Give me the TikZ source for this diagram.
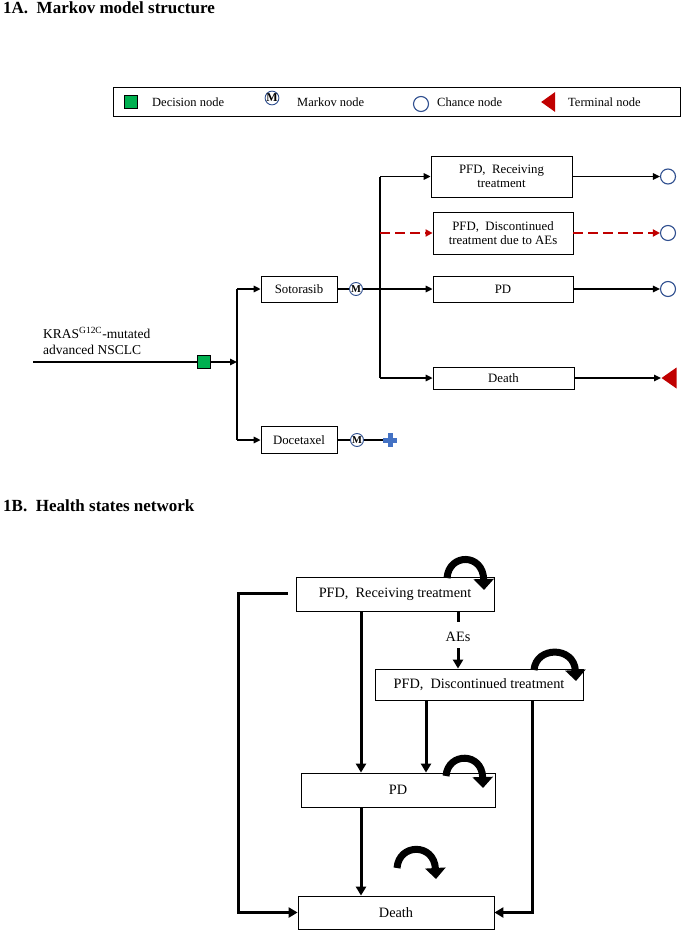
\documentclass[tikz,border=0pt]{standalone}
\usepackage{fontspec}
\setmainfont{Liberation Serif}
\usetikzlibrary{arrows.meta,shapes.geometric}
\definecolor{dred}{HTML}{C00000}
\definecolor{dblue}{HTML}{2F4F8F}
\definecolor{dgreen}{HTML}{00B050}
\definecolor{pblue}{HTML}{4472C4}
\begin{document}
\begin{tikzpicture}[x=1pt,y=-1pt,
  tbox/.style={draw, line width=0.8pt, inner sep=0pt, align=center, font=\fontsize{12.8}{14.5}\selectfont},
  nbox/.style={draw, line width=0.8pt, inner sep=0pt, align=center, font=\fontsize{14.3}{16}\selectfont},
  tline/.style={line width=1.5pt, -{Triangle[length=7pt,width=6.5pt]}},
  tplain/.style={line width=1.5pt},
  rdash/.style={line width=2.3pt, dred, dash pattern=on 10pt off 5pt, -{Triangle[length=7pt,width=7pt]}},
  mnode/.style={circle, draw=dblue, line width=0.9pt, fill=white, minimum size=13pt, inner sep=0pt, font=\bfseries\fontsize{10.5}{10.5}\selectfont},
  cnode/.style={circle, draw=dblue, line width=1.1pt, fill=white, minimum size=15pt, inner sep=0pt},
  tnode/.style={isosceles triangle, shape border rotate=180, isosceles triangle stretches=true, fill=dred, minimum height=15pt, minimum width=21pt, inner sep=0pt},
  dnode/.style={draw=black, line width=0.8pt, fill=dgreen, minimum size=13pt, inner sep=0pt},
  nline/.style={line width=3pt, -{Triangle[length=9pt,width=10pt]}},
  nplain/.style={line width=3pt},
  loopar/.style={line width=7pt, -{Triangle[length=11pt,width=20pt]}},
  ttl/.style={font=\bfseries\fontsize{17}{19}\selectfont, anchor=base west, inner sep=0pt},
  lgd/.style={font=\fontsize{12.5}{14}\selectfont, anchor=west, inner sep=0pt},
]
\fill[white] (0,0) rectangle (685,931);
\useasboundingbox (0,0) rectangle (685,931);

% ---------- 1A ----------
\node[ttl] (tA) at (3,14) {1A.\ \ Markov model structure};

\node[draw, line width=0.8pt, minimum width=567pt, minimum height=29pt, inner sep=0pt] (lg) at (396.5,102) {};
\node[dnode] (ld) at (131,102) {};
\node[lgd] (ldt) at (152,102) {Decision node};
\node[mnode, minimum size=13pt, font=\bfseries\fontsize{12}{12}\selectfont] (lm) at (272,98) {M};
\node[lgd] (lmt) at (297,102) {Markov node};
\node[cnode] (lc) at (421,104) {};
\node[lgd] (lct) at (437,102) {Chance node};
\node[tnode, minimum height=14pt, minimum width=20pt] (lt) at (550,102) {};
\node[lgd] (ltt) at (568,102) {Terminal node};

\node[font=\fontsize{13.5}{16}\selectfont, align=left, anchor=north west, inner sep=0pt] (kras) at (43,327) {KRAS\textsuperscript{G12C}-mutated\\advanced NSCLC};

\coordinate (src) at (33,362);
\node[dnode] (dec) at (203.5,362) {};
\coordinate (j1) at (237,362);
\node[tbox, minimum width=76pt, minimum height=26pt] (soto) at (299,289) {Sotorasib};
\node[tbox, minimum width=76pt, minimum height=27pt] (doce) at (299,440) {Docetaxel};
\node[mnode] (m1) at (356,289) {M};
\node[mnode] (m2) at (357,440) {M};
\node[inner sep=0pt, minimum size=14pt] (plus) at (390,440) {};

\coordinate (j2) at (380,289);
\node[tbox, minimum width=141pt, minimum height=41pt] (r1) at (501.5,176.5) {PFD,\ \ Receiving\\treatment};
\node[tbox, minimum width=140pt, minimum height=42pt] (r2) at (503,233) {PFD,\ \ Discontinued\\treatment due to AEs};
\node[tbox, minimum width=140pt, minimum height=26pt] (r3) at (503,289) {PD};
\node[tbox, minimum width=141pt, minimum height=22pt] (r4) at (503.5,378) {Death};
\node[cnode] (c1) at (668,176.5) {};
\node[cnode] (c2) at (668,233) {};
\node[cnode] (c3) at (668,289) {};
\node[tnode, anchor=apex] (t4) at (661,378) {};

\draw[tplain] (src) -- (dec);
\draw[tline] (dec) -- (j1);
\draw[tplain] (j1 |- soto) -- (j1 |- doce);
\draw[tline] (j1 |- soto) -- (soto);
\draw[tline] (j1 |- doce) -- (doce);
\draw[tplain] (soto) -- (m1);
\draw[tplain] (doce) -- (m2);
\draw[tplain] (m2) -- (plus.center);
\fill[pblue] (plus.center) ++(-2.5,-7) rectangle ++(5,14);
\fill[pblue] (plus.center) ++(-7,-2.5) rectangle ++(14,5);
\draw[tline] (m1) -- (r3);
\draw[tplain] (j2 |- r1) -- (j2 |- r4);
\draw[tline] (j2 |- r1) -- (r1);
\draw[rdash] (j2 |- r2) -- (r2);
\draw[tline] (j2 |- r4) -- (r4);
\draw[tline] (r1) -- (c1);
\draw[rdash] (r2) -- (c2);
\draw[tline] (r3) -- (c3);
\draw[tline] (r4) -- (t4.apex);

% ---------- 1B ----------
\node[ttl] (tB) at (3,511) {1B.\ \ Health states network};
\node[nbox, minimum width=198pt, minimum height=34pt] (nr) at (395,594) {PFD,\ \ Receiving treatment};
\node[nbox, minimum width=208pt, minimum height=31pt] (nd) at (479,684.5) {PFD,\ \ Discontinued treatment};
\node[nbox, minimum width=194pt, minimum height=34pt] (np) at (398,790) {PD};
\node[nbox, minimum width=196pt, minimum height=33pt] (nx) at (396,912.5) {Death};
\coordinate (xa) at (361,0);
\coordinate (xb) at (426,0);
\coordinate (xc) at (458,0);
\coordinate (xr) at (532,0);

\draw[nline] ([xshift=-8pt,yshift=1pt]nr.west) -| (238,912.5) -- (nx.west);
\draw[nline] (nr.south -| xa) -- (np.north -| xa);
\draw[nplain] (nr.south -| xc) -- ++(0,11);
\node[font=\fontsize{14.3}{16}\selectfont] (aes) at (458,637) {AEs};
\draw[nline] (aes.south) ++(0,3) -- (nd.north -| aes);
\draw[nline] (nd.south -| xb) -- (np.north -| xb);
\draw[nline] (nd.south -| xr) |- (nx.east);
\draw[nline] (np.south -| xa) -- (nx.north -| xa);

\draw[loopar] (447,578) .. controls (449,553) and (483,553) .. (484,590);
\draw[loopar] (534,670) .. controls (536,646) and (574,646) .. (576,681);
\draw[loopar] (446,776) .. controls (448,752) and (482,752) .. (483,788);
\draw[loopar] (397,868) .. controls (399,843) and (434,843) .. (436,879);
\end{tikzpicture}
\end{document}
